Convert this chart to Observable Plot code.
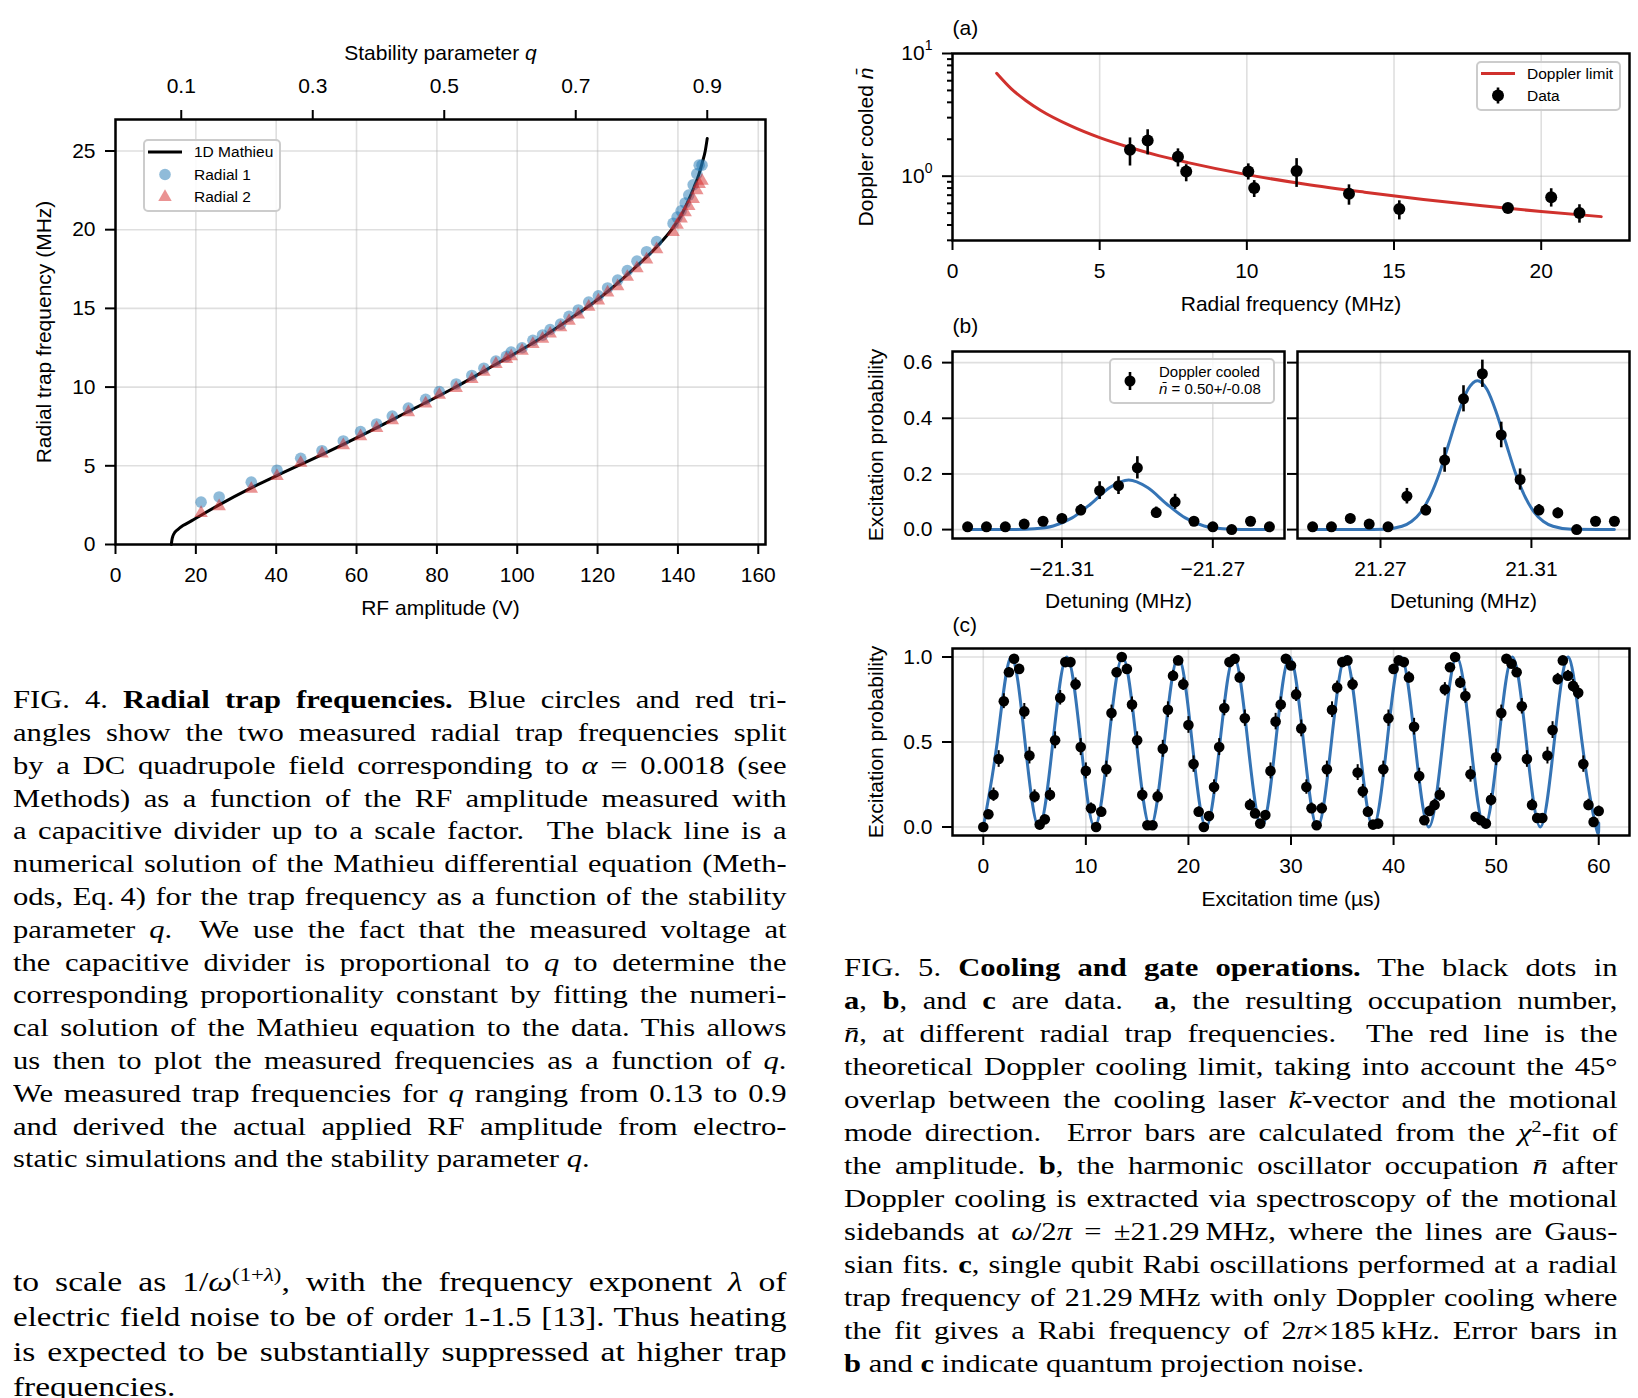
<!DOCTYPE html>
<html><head><meta charset="utf-8">
<script src="https://cdn.jsdelivr.net/npm/d3@7"></script>
<script src="https://cdn.jsdelivr.net/npm/@observablehq/plot@0.6"></script>
<style>
html,body{margin:0;padding:0;background:#fff;}
#page{position:relative;width:1638px;height:1398px;overflow:hidden;background:#fff;}
.panel{position:absolute;}
.panel svg{overflow:visible;background:none;}
.panel svg g[aria-label$="tick"] path{stroke-width:2px;}
.ln{position:absolute;font-family:"Liberation Serif","Times New Roman",serif;color:#000;white-space:nowrap;text-align:justify;text-align-last:justify;transform-origin:0 50%;}
.ln.last{text-align-last:left;}
.ln sup{font-size:0.68em;vertical-align:0.5em;line-height:0;}
.vec{position:relative;display:inline-block;}
.vec::after{content:"\2192";position:absolute;left:0.12em;top:-0.62em;font-size:0.62em;font-style:normal;}
</style>
</head><body><div id="page"></div>
<script>
// ---------------- FIG 4 data ----------------
const rfAmp   = [21.3, 25.8, 33.8, 40.2, 46.1, 51.4, 56.7, 61.0, 65.0, 68.9, 72.9, 77.2, 80.6, 84.8, 88.7, 91.7, 94.7, 97.3, 98.5, 101.2, 103.9, 106.3, 108.2, 110.8, 112.9, 115.2, 117.8, 120.2, 122.5, 125.0, 127.4, 129.8, 132.2, 134.7, 138.8, 139.8, 140.8, 141.8, 142.7, 143.8, 144.7, 145.3, 146.0];
const radial1 = [2.69, 3.02, 3.96, 4.72, 5.48, 5.96, 6.58, 7.17, 7.66, 8.16, 8.67, 9.22, 9.71, 10.2, 10.74, 11.2, 11.65, 11.95, 12.22, 12.5, 12.97, 13.3, 13.66, 14.0, 14.5, 14.9, 15.4, 15.8, 16.3, 16.8, 17.4, 18.0, 18.6, 19.25, 20.4, 20.8, 21.2, 21.7, 22.2, 22.85, 23.55, 24.1, 24.1];
const radial2 = [2.0, 2.43, 3.53, 4.34, 5.18, 5.77, 6.3, 6.87, 7.4, 7.89, 8.4, 8.95, 9.5, 9.94, 10.5, 10.96, 11.46, 11.78, 11.95, 12.3, 12.73, 13.07, 13.39, 13.79, 14.2, 14.6, 15.1, 15.5, 16.0, 16.4, 17.0, 17.55, 18.1, 18.75, 19.85, 20.3, 20.7, 21.1, 21.5, 21.95, 22.5, 22.9, 23.1];
const mathieuV = [13.9, 14.05, 14.3, 14.8, 15.5, 16.8, 18.9, 21.3, 25.8, 33.8, 40.2, 51.4, 61.0, 72.9, 84.8, 94.7, 103.9, 112.9, 120.2, 129.8, 134.7, 138.7, 141.0, 142.5, 144.0, 145.2, 146.1, 146.8, 147.3];
const mathieuF = [0, 0.3, 0.55, 0.78, 0.95, 1.2, 1.5, 1.86, 2.52, 3.6, 4.38, 5.71, 6.9, 8.45, 10.02, 11.45, 12.8, 14.3, 15.6, 17.7, 18.9, 20.1, 21.0, 21.8, 22.7, 23.5, 24.3, 25.0, 25.8];
const rfTicks = [0, 20, 40, 60, 80, 100, 120, 140, 160];
const freqTicks = [0, 5, 10, 15, 20, 25];
const qTicks = [0.1, 0.3, 0.5, 0.7, 0.9];
const qPerVolt = 0.00611; // stability parameter q per volt (top axis)

// ---------------- FIG 5a data ----------------
const coolFreq = [6.03, 6.63, 7.66, 7.94, 10.05, 10.25, 11.69, 13.47, 15.18, 18.87, 20.34, 21.3];
const coolN    = [1.64, 1.95, 1.44, 1.09, 1.09, 0.80, 1.10, 0.72, 0.54, 0.55, 0.674, 0.50];
const coolLo   = [1.21, 1.49, 1.19, 0.90, 0.93, 0.67, 0.81, 0.58, 0.44, 0.53, 0.56, 0.414];
const coolHi   = [2.05, 2.39, 1.67, 1.24, 1.26, 0.92, 1.39, 0.85, 0.63, 0.57, 0.79, 0.585];
const limitFreq = [1.5, 2, 2.5, 3, 4, 5, 6, 7, 8, 10, 12, 14, 16, 18, 20, 22.04];
const limitN    = [6.9, 5.15, 4.12, 3.43, 2.58, 2.06, 1.72, 1.47, 1.29, 1.03, 0.86, 0.74, 0.645, 0.573, 0.515, 0.468];
const radTicks = [0, 5, 10, 15, 20];

// ---------------- FIG 5b data ----------------
const redDet = [-21.335, -21.330, -21.325, -21.320, -21.315, -21.310, -21.305, -21.300, -21.295, -21.290, -21.285, -21.280, -21.275, -21.270, -21.265, -21.260, -21.255];
const redP   = [0.01, 0.01, 0.01, 0.02, 0.03, 0.04, 0.07, 0.14, 0.158, 0.222, 0.061, 0.10, 0.03, 0.01, 0.0, 0.03, 0.01];
const redErr = [0.008, 0.008, 0.008, 0.012, 0.014, 0.016, 0.02, 0.032, 0.032, 0.04, 0.02, 0.027, 0.014, 0.008, 0.004, 0.014, 0.008];
const redFitX = [-21.335, -21.3223, -21.3173, -21.3123, -21.3073, -21.3023, -21.2973, -21.2923, -21.2873, -21.2823, -21.2773, -21.2723, -21.2673, -21.2623, -21.255];
const redFitP = [0, 0.0005, 0.003, 0.013, 0.042, 0.093, 0.151, 0.178, 0.151, 0.093, 0.042, 0.013, 0.003, 0.0005, 0];
const blueDet = [21.252, 21.257, 21.262, 21.267, 21.272, 21.277, 21.282, 21.287, 21.292, 21.297, 21.302, 21.307, 21.312, 21.317, 21.322, 21.327, 21.332];
const blueP   = [0.01, 0.01, 0.04, 0.02, 0.01, 0.12, 0.07, 0.25, 0.47, 0.56, 0.34, 0.18, 0.07, 0.06, 0.0, 0.03, 0.03];
const blueErr = [0.008, 0.008, 0.016, 0.012, 0.008, 0.028, 0.02, 0.044, 0.047, 0.049, 0.046, 0.038, 0.02, 0.018, 0.004, 0.014, 0.014];
const blueFitX = [21.252, 21.2657, 21.2707, 21.2757, 21.2782, 21.2807, 21.2832, 21.2857, 21.2882, 21.2907, 21.2932, 21.2957, 21.2982, 21.3007, 21.3032, 21.3057, 21.3082, 21.3107, 21.3132, 21.3157, 21.3207, 21.332];
const blueFitP = [0, 0, 0.001, 0.012, 0.029, 0.063, 0.121, 0.206, 0.313, 0.421, 0.504, 0.535, 0.504, 0.421, 0.313, 0.206, 0.121, 0.063, 0.029, 0.012, 0.001, 0];
const probTicks = [0, 0.2, 0.4, 0.6];

// ---------------- FIG 5c data ----------------
const rabiT = [0,0.5,1,1.5,2,2.5,3,3.5,4,4.5,5,5.5,6,6.5,7,7.5,8,8.5,9,9.5,10,10.5,11,11.5,12,12.5,13,13.5,14,14.5,15,15.5,16,16.5,17,17.5,18,18.5,19,19.5,20,20.5,21,21.5,22,22.5,23,23.5,24,24.5,25,25.5,26,26.5,27,27.5,28,28.5,29,29.5,30,30.5,31,31.5,32,32.5,33,33.5,34,34.5,35,35.5,36,36.5,37,37.5,38,38.5,39,39.5,40,40.5,41,41.5,42,42.5,43,43.5,44,44.5,45,45.5,46,46.5,47,47.5,48,48.5,49,49.5,50,50.5,51,51.5,52,52.5,53,53.5,54,54.5,55,55.5,56,56.5,57,57.5,58,58.5,59,59.5,60];
const rabiP = [0.00,0.075,0.19,0.40,0.74,0.91,0.99,0.93,0.68,0.42,0.18,0.014,0.045,0.19,0.51,0.76,0.97,0.97,0.84,0.47,0.33,0.11,0.00,0.09,0.34,0.67,0.91,1.00,0.93,0.72,0.51,0.19,0.01,0.01,0.18,0.46,0.69,0.89,0.98,0.84,0.60,0.37,0.09,0.00,0.065,0.235,0.47,0.70,0.97,0.99,0.88,0.64,0.13,0.08,0.02,0.07,0.33,0.62,0.72,0.99,0.95,0.78,0.58,0.235,0.11,0.01,0.11,0.34,0.69,0.82,0.97,0.98,0.84,0.32,0.21,0.09,0.014,0.02,0.34,0.64,0.93,0.98,0.97,0.88,0.59,0.30,0.04,0.094,0.13,0.19,0.81,0.94,1.00,0.85,0.77,0.31,0.06,0.04,0.02,0.16,0.41,0.67,0.99,0.96,0.91,0.71,0.40,0.13,0.053,0.053,0.42,0.57,0.87,0.98,0.89,0.83,0.79,0.37,0.13,0.03,0.094];
const rabiShots = 100; // projection-noise error bars
const rabiFitT = [0,1.36,2.72,4.07,5.43,6.79,8.15,9.50,10.86,12.22,13.58,14.93,16.29,17.65,19.01,20.36,21.72,23.08,24.44,25.79,27.15,28.51,29.87,31.22,32.58,33.94,35.30,36.65,38.01,39.37,40.73,42.08,43.44,44.80,46.16,47.51,48.87,50.23,51.59,52.94,54.30,55.66,57.02,58.37,59.73,60.0];
const rabiFitP = [0,0.5,1,0.5,0,0.5,1,0.5,0,0.5,1,0.5,0,0.5,1,0.5,0,0.5,1,0.5,0,0.5,1,0.5,0,0.5,1,0.5,0,0.5,1,0.5,0,0.5,1,0.5,0,0.5,1,0.5,0,0.5,1,0.5,0,0.024];
const timeTicks = [0, 10, 20, 30, 40, 50, 60];
const rabiTicks = [0, 0.5, 1.0];

// ---------------- text ----------------
const fig4Caption = [
 'FIG. 4. <b>Radial trap frequencies.</b> Blue circles and red tri-',
 'angles show the two measured radial trap frequencies split',
 'by a DC quadrupole field corresponding to <i>α</i> = 0.0018 (see',
 'Methods) as a function of the RF amplitude measured with',
 'a capacitive divider up to a scale factor.&nbsp; The black line is a',
 'numerical solution of the Mathieu differential equation (Meth-',
 'ods, Eq.&#8239;4) for the trap frequency as a function of the stability',
 'parameter <i>q</i>.&nbsp; We use the fact that the measured voltage at',
 'the capacitive divider is proportional to <i>q</i> to determine the',
 'corresponding proportionality constant by fitting the numeri-',
 'cal solution of the Mathieu equation to the data. This allows',
 'us then to plot the measured frequencies as a function of <i>q</i>.',
 'We measured trap frequencies for <i>q</i> ranging from 0.13 to 0.9',
 'and derived the actual applied RF amplitude from electro-',
 'static simulations and the stability parameter <i>q</i>.'
];
const bodyText = [
 'to scale as 1/<i>ω</i><sup>(1+<i>λ</i>)</sup>, with the frequency exponent <i>λ</i> of',
 'electric field noise to be of order 1-1.5 [13]. Thus heating',
 'is expected to be substantially suppressed at higher trap',
 'frequencies.'
];
const fig5Caption = [
 'FIG. 5. <b>Cooling and gate operations.</b> The black dots in',
 '<b>a</b>, <b>b</b>, and <b>c</b> are data.&nbsp; <b>a</b>, the resulting occupation number,',
 '<i>n̄</i>, at different radial trap frequencies.&nbsp; The red line is the',
 'theoretical Doppler cooling limit, taking into account the 45°',
 'overlap between the cooling laser <i class="vec">k</i>-vector and the motional',
 'mode direction.&nbsp; Error bars are calculated from the <i>χ</i><sup>2</sup>-fit of',
 'the amplitude. <b>b</b>, the harmonic oscillator occupation <i>n̄</i> after',
 'Doppler cooling is extracted via spectroscopy of the motional',
 'sidebands at <i>ω</i>/2<i>π</i> = ±21.29&#8239;MHz, where the lines are Gaus-',
 'sian fits. <b>c</b>, single qubit Rabi oscillations performed at a radial',
 'trap frequency of 21.29&#8239;MHz with only Doppler cooling where',
 'the fit gives a Rabi frequency of 2<i>π</i>×185&#8239;kHz. Error bars in',
 '<b>b</b> and <b>c</b> indicate quantum projection noise.'
];

// ---------------- helpers ----------------
const SANS = '"Liberation Sans", Arial, Helvetica, sans-serif';
const GRID = {stroke: "#b0b0b0", strokeOpacity: 0.4, strokeWidth: 1.6};
const page = document.getElementById("page");
const zip = (o) => { const k = Object.keys(o); return o[k[0]].map((_, i) => Object.fromEntries(k.map(n => [n, o[n][i]]))); };
function place(el, left, top) {
  const d = document.createElement("div");
  d.className = "panel"; d.style.left = left + "px"; d.style.top = top + "px";
  d.appendChild(el); page.appendChild(d);
}
function richText(svg, plain, html) {
  d3.select(svg).selectAll("text").each(function() { if (this.textContent === plain) this.innerHTML = html; });
}
// justified lines; glyphs widened horizontally (Computer Modern is wider than Times)
function addLines(lines, left, width, firstBase, step, size) {
  const L = Math.round(size * 1.2);
  const divs = lines.map((h, i) => {
    const d = document.createElement("div");
    d.className = "ln" + (i === lines.length - 1 ? " last" : "");
    d.style.left = left + "px"; d.style.width = width + "px";
    d.style.fontSize = size + "px"; d.style.lineHeight = L + "px"; d.style.height = L + "px";
    d.style.top = (firstBase + i * step - L / 2 - 0.3375 * size) + "px";
    d.innerHTML = "<span>" + h + "</span>";
    page.appendChild(d);
    return d;
  });
  let sum = 0, n = 0;
  const apply = (d, s) => { d.style.width = (width / s) + "px"; d.style.transform = `scaleX(${s})`; };
  divs.forEach((d, i) => {
    if (i === divs.length - 1) return;
    d.style.textAlignLast = "left"; d.style.textAlign = "left";
    const w = d.firstChild.getBoundingClientRect().width;
    d.style.textAlignLast = ""; d.style.textAlign = "";
    const s = Math.max(1, Math.min(1.2, width * 0.98 / w));
    apply(d, s); sum += s; n++;
  });
  apply(divs[divs.length - 1], n ? sum / n : 1);
}
function legendBox(left, top, w, h, build) {
  const svg = d3.create("svg").attr("width", w).attr("height", h)
    .style("position", "absolute").style("left", left + "px").style("top", top + "px")
    .style("overflow", "visible").style("font-family", SANS).style("font-size", "15.5px");
  svg.append("rect").attr("x", 1).attr("y", 1).attr("width", w - 2).attr("height", h - 2).attr("rx", 4)
    .attr("fill", "white").attr("fill-opacity", 0.85).attr("stroke", "#cccccc").attr("stroke-width", 2);
  build(svg);
  page.appendChild(svg.node());
}
const baseStyle = {fontFamily: SANS, fontSize: "21px", background: "none", overflow: "visible", color: "black"};
const T = (s, o) => Plot.text([s], {text: d => d, fontSize: 21, textAnchor: "middle", lineAnchor: "middle", ...o});

// ---------------- FIG 4 ----------------
const fig4Pts = zip({v: rfAmp, r1: radial1, r2: radial2});
const fig4Line = zip({v: mathieuV, f: mathieuF});
const fig4 = Plot.plot({
  width: 775, height: 615, marginLeft: 95, marginRight: 30, marginTop: 110, marginBottom: 80,
  style: baseStyle,
  x: {domain: [0, 161.8], label: null},
  y: {domain: [0, 27], label: null},
  marks: [
    Plot.gridX({ticks: rfTicks, ...GRID}),
    Plot.gridY({ticks: freqTicks, ...GRID}),
    Plot.line(fig4Line, {x: "v", y: "f", stroke: "black", strokeWidth: 3, curve: "monotone-x"}),
    Plot.dot(fig4Pts, {x: "v", y: "r1", r: 5.8, fill: "#1f77b4", fillOpacity: 0.5}),
    Plot.dot(fig4Pts, {x: "v", y: "r2", r: 5, symbol: "triangle", fill: "#d62728", fillOpacity: 0.5}),
    Plot.frame({stroke: "black", strokeWidth: 2.5}),
    Plot.axisX({ticks: rfTicks, tickSize: 10, tickPadding: 13, label: null, tickFormat: d => d}),
    Plot.axisX({anchor: "top", ticks: qTicks.map(q => q / qPerVolt), tickSize: 10, tickPadding: 17, label: null, tickFormat: d => (d * qPerVolt).toFixed(1)}),
    Plot.axisY({ticks: freqTicks, tickSize: 10, tickPadding: 10, label: null, tickFormat: d => d}),
    T("Stability parameter q", {frameAnchor: "top", dy: -66}),
    T("RF amplitude (V)", {frameAnchor: "bottom", dy: 64}),
    T("Radial trap frequency (MHz)", {frameAnchor: "left", dx: -71, rotate: -90})
  ]
});
richText(fig4, "Stability parameter q", 'Stability parameter <tspan font-style="italic">q</tspan>');
place(fig4, 20, 9);
legendBox(143, 139, 138, 73, g => {
  g.append("line").attr("x1", 5).attr("x2", 39).attr("y1", 13).attr("y2", 13).attr("stroke", "black").attr("stroke-width", 3);
  g.append("circle").attr("cx", 22).attr("cy", 35.5).attr("r", 5.8).attr("fill", "#1f77b4").attr("fill-opacity", 0.5);
  g.append("path").attr("d", d3.symbol(d3.symbolTriangle, Math.PI * 25)()).attr("transform", "translate(22,58)").attr("fill", "#d62728").attr("fill-opacity", 0.5);
  [["1D Mathieu", 13], ["Radial 1", 35.5], ["Radial 2", 58]].forEach(([s, y]) =>
    g.append("text").attr("x", 51).attr("y", y).attr("dy", "0.35em").text(s));
});

// ---------------- FIG 5a ----------------
const coolPts = zip({f: coolFreq, n: coolN, lo: coolLo, hi: coolHi});
const limitLine = zip({f: limitFreq, n: limitN});
const fig5a = Plot.plot({
  width: 795, height: 315, marginLeft: 110, marginRight: 8, marginTop: 53, marginBottom: 75,
  style: baseStyle,
  x: {domain: [0, 23], label: null},
  y: {type: "log", domain: [0.299, 10], label: null},
  marks: [
    Plot.gridX({ticks: radTicks, ...GRID}),
    Plot.gridY({ticks: [1], ...GRID}),
    Plot.line(limitLine, {x: "f", y: "n", stroke: "#d0312d", strokeWidth: 3, curve: "monotone-x"}),
    Plot.ruleX(coolPts, {x: "f", y1: "lo", y2: "hi", stroke: "black", strokeWidth: 2.6}),
    Plot.dot(coolPts, {x: "f", y: "n", r: 6, fill: "black"}),
    Plot.frame({stroke: "black", strokeWidth: 2.5}),
    Plot.axisX({ticks: radTicks, tickSize: 10, tickPadding: 13, label: null, tickFormat: d => d}),
    Plot.axisY({ticks: [1, 10], tickSize: 10, tickPadding: 10, label: null, tickFormat: d => d === 1 ? "10^0" : "10^1"}),
    Plot.axisY({ticks: [0.3, 0.4, 0.5, 0.6, 0.7, 0.8, 0.9, 2, 3, 4, 5, 6, 7, 8, 9], tickSize: 5, label: null, tickFormat: () => ""}),
    T("(a)", {frameAnchor: "top-left", textAnchor: "start", dy: -25}),
    T("Radial frequency (MHz)", {frameAnchor: "bottom", dy: 64}),
    T("Doppler cooled n̄", {frameAnchor: "left", dx: -86, rotate: -90})
  ]
});
richText(fig5a, "10^0", '10<tspan dy="-10" font-size="14">0</tspan>');
richText(fig5a, "10^1", '10<tspan dy="-10" font-size="14">1</tspan>');
richText(fig5a, "Doppler cooled n̄", 'Doppler cooled <tspan font-style="italic">n̄</tspan>');
place(fig5a, 842, 0);
legendBox(1476, 61, 145, 50, g => {
  g.append("line").attr("x1", 5).attr("x2", 39).attr("y1", 12.5).attr("y2", 12.5).attr("stroke", "#d0312d").attr("stroke-width", 3);
  g.append("line").attr("x1", 22).attr("x2", 22).attr("y1", 26.5).attr("y2", 42.5).attr("stroke", "black").attr("stroke-width", 2.6);
  g.append("circle").attr("cx", 22).attr("cy", 34.5).attr("r", 6).attr("fill", "black");
  [["Doppler limit", 12.5], ["Data", 34.5]].forEach(([s, y]) =>
    g.append("text").attr("x", 51).attr("y", y).attr("dy", "0.35em").text(s));
});

// ---------------- FIG 5b ----------------
const redPts = zip({d: redDet, p: redP, e: redErr});
const bluePts = zip({d: blueDet, p: blueP, e: blueErr});
const redFit = zip({d: redFitX, p: redFitP});
const blueFit = zip({d: blueFitX, p: blueFitP});
function sideband(pts, fit, domain, ticks, left) {
  return Plot.plot({
    width: left ? 447 : 352, height: 297,
    marginLeft: left ? 110 : 12, marginRight: left ? 5 : 8, marginTop: 40, marginBottom: 70,
    style: baseStyle,
    x: {domain, label: null},
    y: {domain: [-0.032, 0.640], label: null},
    marks: [
      Plot.gridX({ticks, ...GRID}),
      Plot.gridY({ticks: probTicks, ...GRID}),
      Plot.line(fit, {x: "d", y: "p", stroke: "#3574b5", strokeWidth: 3, curve: "monotone-x"}),
      Plot.ruleX(pts, {x: "d", y1: d => d.p - d.e, y2: d => d.p + d.e, stroke: "black", strokeWidth: 2.6}),
      Plot.dot(pts, {x: "d", y: "p", r: 5.5, fill: "black"}),
      Plot.frame({stroke: "black", strokeWidth: 2.5}),
      Plot.axisX({ticks, tickSize: 10, tickPadding: 13, label: null, tickFormat: d3.format(".2f")}),
      Plot.axisY({ticks: probTicks, tickSize: 10, tickPadding: 10, label: null, tickFormat: left ? d3.format(".1f") : () => ""}),
      T("Detuning (MHz)", {frameAnchor: "bottom", dy: 63}),
      ...(left ? [
        T("(b)", {frameAnchor: "top-left", textAnchor: "start", dy: -25}),
        T("Excitation probability", {frameAnchor: "left", dx: -76.5, rotate: -90})
      ] : [])
    ]
  });
}
place(sideband(redPts, redFit, [-21.339, -21.251], [-21.31, -21.27], true), 842, 311);
place(sideband(bluePts, blueFit, [21.248, 21.336], [21.27, 21.31], false), 1285, 311);
legendBox(1109, 358, 166, 46, g => {
  g.append("line").attr("x1", 21).attr("x2", 21).attr("y1", 14).attr("y2", 32).attr("stroke", "black").attr("stroke-width", 2.6);
  g.append("circle").attr("cx", 21).attr("cy", 23).attr("r", 5.5).attr("fill", "black");
  g.append("text").attr("x", 50).attr("y", 13.5).attr("dy", "0.35em").style("font-size", "15px").text("Doppler cooled");
  g.append("text").attr("x", 50).attr("y", 31).attr("dy", "0.35em").style("font-size", "15px")
    .html('<tspan font-style="italic">n̄</tspan> = 0.50+/-0.08');
});

// ---------------- FIG 5c ----------------
const rabiPts = zip({t: rabiT, p: rabiP});
const rabiFit = zip({t: rabiFitT, p: rabiFitP});
const fig5c = Plot.plot({
  width: 795, height: 312, marginLeft: 110, marginRight: 8, marginTop: 50, marginBottom: 75,
  style: baseStyle,
  x: {domain: [-3, 63], label: null},
  y: {domain: [-0.05, 1.05], label: null},
  marks: [
    Plot.gridX({ticks: timeTicks, ...GRID}),
    Plot.gridY({ticks: rabiTicks, ...GRID}),
    Plot.line(rabiFit, {x: "t", y: "p", stroke: "#3574b5", strokeWidth: 3, curve: "natural"}),
    Plot.ruleX(rabiPts, {x: "t", y1: d => d.p - Math.sqrt(d.p * (1 - d.p) / rabiShots), y2: d => d.p + Math.sqrt(d.p * (1 - d.p) / rabiShots), stroke: "black", strokeWidth: 2}),
    Plot.dot(rabiPts, {x: "t", y: "p", r: 5.3, fill: "black"}),
    Plot.frame({stroke: "black", strokeWidth: 2.5}),
    Plot.axisX({ticks: timeTicks, tickSize: 10, tickPadding: 13, label: null, tickFormat: d => d}),
    Plot.axisY({ticks: rabiTicks, tickSize: 10, tickPadding: 10, label: null, tickFormat: d3.format(".1f")}),
    T("(c)", {frameAnchor: "top-left", textAnchor: "start", dy: -23}),
    T("Excitation time (µs)", {frameAnchor: "bottom", dy: 64}),
    T("Excitation probability", {frameAnchor: "left", dx: -76, rotate: -90})
  ]
});
place(fig5c, 842, 598);

// ---------------- captions ----------------
addLines(fig4Caption, 12.5, 773.5, 708.3, 32.8, 25.5);
addLines(bodyText, 12.5, 773.5, 1291.7, 35, 28);
addLines(fig5Caption, 844, 773.5, 976.5, 33, 25.5);
</script>
</body></html>
